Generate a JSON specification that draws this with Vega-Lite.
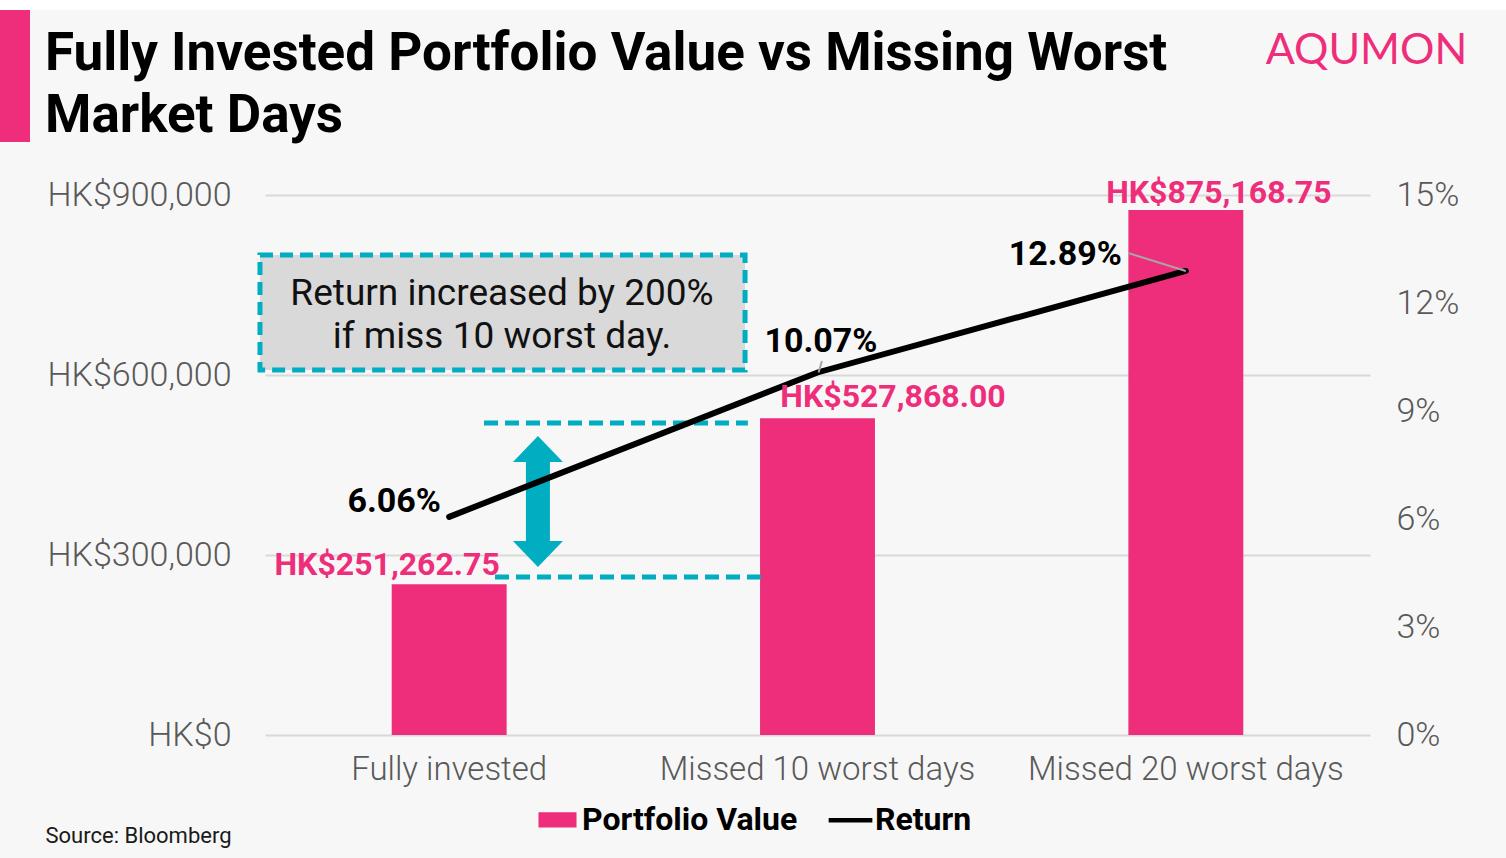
{
  "$schema": "https://vega.github.io/schema/vega-lite/v6.json",
  "width": 1105,
  "height": 540,
  "autosize": {"type": "none"},
  "padding": {"left": 265, "top": 195, "right": 136, "bottom": 123},
  "background": "#f7f7f7",
  "config": {"view": {"stroke": null}, "font": "Roboto"},
  "title": {
    "text": ["Fully Invested Portfolio Value vs Missing Worst", "Market Days"],
    "anchor": "start",
    "frame": "group",
    "orient": "top",
    "offset": -68,
    "dx": -220,
    "dy": 117,
    "baseline": "alphabetic",
    "limit": 0,
    "font": "Roboto",
    "fontSize": 53,
    "fontWeight": "bold",
    "color": "#000000",
    "lineHeight": 62
  },
  "datasets": {
    "main": [
      {"category": "Fully invested", "value": 251262.75, "ret": 6.06, "series": "Portfolio Value"},
      {"category": "Missed 10 worst days", "value": 527868.00, "ret": 10.07, "series": "Portfolio Value"},
      {"category": "Missed 20 worst days", "value": 875168.75, "ret": 12.89, "series": "Portfolio Value"}
    ]
  },
  "data": {"name": "main"},
  "resolve": {"scale": {"x": "independent", "y": "independent"}},
  "layer": [
    {
      "data": {"values": [{}]},
      "mark": {"type": "rect", "color": "#ffffff"},
      "encoding": {
        "x": {"datum": -0.72, "type": "quantitative", "scale": {"domain": [0, 3], "nice": false, "zero": false}, "axis": null},
        "x2": {"datum": 3.37},
        "y": {"datum": 1225000, "type": "quantitative", "scale": {"domain": [0, 900000], "nice": false}, "axis": null},
        "y2": {"datum": 1208333}
      }
    },
    {
      "data": {"values": [{}]},
      "mark": {"type": "rect", "color": "#ee2e7a"},
      "encoding": {
        "x": {"datum": -0.7195, "type": "quantitative", "scale": {"domain": [0, 3], "nice": false, "zero": false}, "axis": null},
        "x2": {"datum": -0.638},
        "y": {"datum": 1208333, "type": "quantitative", "scale": {"domain": [0, 900000], "nice": false}, "axis": null},
        "y2": {"datum": 988333}
      }
    },
    {
      "mark": {"type": "bar", "width": {"band": 0.312}},
      "encoding": {
        "x": {
          "field": "category", "type": "nominal", "sort": null,
          "scale": {"type": "band", "domain": ["Fully invested", "Missed 10 worst days", "Missed 20 worst days"], "paddingInner": 0, "paddingOuter": 0},
          "axis": {
            "orient": "bottom", "ticks": false, "domain": false, "grid": false, "labelAngle": 0, "labelLimit": 0,
            "labelFont": "Roboto", "labelFontWeight": 300, "labelFontSize": 33, "labelColor": "#595959", "labelPadding": 18,
            "title": "Source: Bloomberg", "titleX": -220, "titleY": 107, "titleAlign": "left", "titleAnchor": "start",
            "titleBaseline": "alphabetic", "titleFont": "Roboto", "titleFontSize": 22, "titleFontWeight": "normal", "titleColor": "#1a1a1a"
          }
        },
        "y": {
          "field": "value", "type": "quantitative",
          "scale": {"domain": [0, 900000], "nice": false},
          "axis": {
            "orient": "left", "values": [0, 300000, 600000, 900000],
            "labelExpr": "'HK$' + format(datum.value, ',')", "labelLimit": 0,
            "ticks": false, "domain": false, "grid": true, "gridColor": "#d9d9d9", "gridWidth": 2,
            "labelFont": "Roboto", "labelFontWeight": 300, "labelFontSize": 34, "labelColor": "#595959", "labelPadding": 34,
            "title": null
          }
        },
        "color": {
          "field": "series", "type": "nominal",
          "scale": {"domain": ["Portfolio Value", "Return"], "range": ["#ee2e7a", "#000000"]},
          "legend": {
            "orient": "none", "legendX": 271, "legendY": 603, "direction": "horizontal", "title": null,
            "labelFont": "Roboto", "labelFontWeight": "bold", "labelFontSize": 32, "labelColor": "#000000", "labelLimit": 0,
            "symbolSize": 1444, "labelOffset": 3, "columnPadding": 21, "symbolOpacity": 1,
            "encode": {
              "symbols": {
                "update": {
                  "shape": {"signal": "datum.value === 'Return' ? 'M-1.15,0H1.15' : 'M-1,-0.4H1V0.4H-1Z'"},
                  "fill": {"signal": "datum.value === 'Return' ? 'transparent' : '#ee2e7a'"},
                  "stroke": {"signal": "datum.value === 'Return' ? '#000000' : 'transparent'"},
                  "strokeWidth": {"value": 4.5}
                }
              }
            }
          }
        }
      }
    },
    {
      "data": {"values": [{}]},
      "mark": {"type": "rect", "fill": "#d9d9d9", "stroke": "#00adc1", "strokeWidth": 5, "strokeDash": [13, 7]},
      "encoding": {
        "x": {"datum": -0.0136, "type": "quantitative", "scale": {"domain": [0, 3], "nice": false, "zero": false}, "axis": null},
        "x2": {"datum": 1.3033},
        "y": {"datum": 800000, "type": "quantitative", "scale": {"domain": [0, 900000], "nice": false}, "axis": null},
        "y2": {"datum": 608333}
      }
    },
    {
      "data": {"values": [{}]},
      "mark": {
        "type": "text", "text": ["Return increased by 200%", "if miss 10 worst day."],
        "align": "center", "baseline": "alphabetic", "font": "Roboto", "fontSize": 37, "lineHeight": 43, "color": "#111111"
      },
      "encoding": {
        "x": {"datum": 0.6435, "type": "quantitative", "scale": {"domain": [0, 3], "nice": false, "zero": false}, "axis": null},
        "y": {"datum": 716667, "type": "quantitative", "scale": {"domain": [0, 900000], "nice": false}, "axis": null}
      }
    },
    {
      "data": {"values": [{}]},
      "mark": {"type": "rule", "color": "#00adc1", "strokeWidth": 5, "strokeDash": [14, 7]},
      "encoding": {
        "x": {"datum": 0.5946, "type": "quantitative", "scale": {"domain": [0, 3], "nice": false, "zero": false}, "axis": null},
        "x2": {"datum": 1.311},
        "y": {"datum": 520000, "type": "quantitative", "scale": {"domain": [0, 900000], "nice": false}, "axis": null}
      }
    },
    {
      "data": {"values": [{}]},
      "mark": {"type": "rule", "color": "#00adc1", "strokeWidth": 5, "strokeDash": [14, 7]},
      "encoding": {
        "x": {"datum": 0.6244, "type": "quantitative", "scale": {"domain": [0, 3], "nice": false, "zero": false}, "axis": null},
        "x2": {"datum": 1.3462},
        "y": {"datum": 263333, "type": "quantitative", "scale": {"domain": [0, 900000], "nice": false}, "axis": null}
      }
    },
    {
      "data": {"values": [{}]},
      "mark": {
        "type": "point", "filled": true, "opacity": 1, "color": "#00adc1", "strokeWidth": 0, "size": 2500,
        "shape": "M0,-2.62L1,-1.58L0.48,-1.58L0.48,1.58L1,1.58L0,2.62L-1,1.58L-0.48,1.58L-0.48,-1.58L-1,-1.58Z"
      },
      "encoding": {
        "x": {"datum": 0.741, "type": "quantitative", "scale": {"domain": [0, 3], "nice": false, "zero": false}, "axis": null},
        "y": {"datum": 389167, "type": "quantitative", "scale": {"domain": [0, 900000], "nice": false}, "axis": null}
      }
    },
    {
      "mark": {"type": "line", "color": "#000000", "strokeWidth": 6, "strokeCap": "round"},
      "encoding": {
        "x": {
          "field": "category", "type": "nominal", "sort": null,
          "scale": {"type": "band", "domain": ["Fully invested", "Missed 10 worst days", "Missed 20 worst days"], "paddingInner": 0, "paddingOuter": 0},
          "axis": null
        },
        "y": {
          "field": "ret", "type": "quantitative",
          "scale": {"domain": [0, 15], "nice": false},
          "axis": {
            "orient": "right", "values": [0, 3, 6, 9, 12, 15],
            "labelExpr": "datum.value + '%'", "labelLimit": 0,
            "ticks": false, "domain": false, "grid": false,
            "labelFont": "Roboto", "labelFontWeight": 300, "labelFontSize": 34, "labelColor": "#595959", "labelPadding": 26,
            "title": "AQUMON", "titleAngle": 0, "titleX": -4, "titleY": -132, "titleAlign": "center", "titleBaseline": "alphabetic",
            "titleFont": "Lato", "titleFontSize": 43, "titleFontWeight": "normal", "titleColor": "#ee2e7a"
          }
        }
      }
    },
    {
      "data": {"values": [{}]},
      "mark": {"type": "rule", "color": "#a6a6a6", "strokeWidth": 2},
      "encoding": {
        "x": {"datum": 2.343, "type": "quantitative", "scale": {"domain": [0, 3], "nice": false, "zero": false}, "axis": null},
        "x2": {"datum": 2.5},
        "y": {"datum": 13.39, "type": "quantitative", "scale": {"domain": [0, 15], "nice": false}, "axis": null},
        "y2": {"datum": 12.89}
      }
    },
    {
      "data": {"values": [{}]},
      "mark": {"type": "rule", "color": "#a6a6a6", "strokeWidth": 2},
      "encoding": {
        "x": {"datum": 1.512, "type": "quantitative", "scale": {"domain": [0, 3], "nice": false, "zero": false}, "axis": null},
        "x2": {"datum": 1.503},
        "y": {"datum": 10.39, "type": "quantitative", "scale": {"domain": [0, 15], "nice": false}, "axis": null},
        "y2": {"datum": 10.07}
      }
    },
    {
      "transform": [
        {"filter": "datum.category === 'Fully invested'"},
        {"calculate": "format(datum.ret, '.2f') + '%'", "as": "retLabel"}
      ],
      "mark": {"type": "text", "align": "center", "baseline": "alphabetic", "font": "Roboto", "fontWeight": "bold", "fontSize": 34, "color": "#000000", "dx": -55, "dy": -5},
      "encoding": {
        "x": {"field": "category", "type": "nominal", "sort": null, "scale": {"type": "band", "domain": ["Fully invested", "Missed 10 worst days", "Missed 20 worst days"], "paddingInner": 0, "paddingOuter": 0}, "axis": null},
        "y": {"field": "ret", "type": "quantitative", "scale": {"domain": [0, 15], "nice": false}, "axis": null},
        "text": {"field": "retLabel"}
      }
    },
    {
      "transform": [
        {"filter": "datum.category === 'Missed 10 worst days'"},
        {"calculate": "format(datum.ret, '.2f') + '%'", "as": "retLabel"}
      ],
      "mark": {"type": "text", "align": "center", "baseline": "alphabetic", "font": "Roboto", "fontWeight": "bold", "fontSize": 34, "color": "#000000", "dx": 3.5, "dy": -20},
      "encoding": {
        "x": {"field": "category", "type": "nominal", "sort": null, "scale": {"type": "band", "domain": ["Fully invested", "Missed 10 worst days", "Missed 20 worst days"], "paddingInner": 0, "paddingOuter": 0}, "axis": null},
        "y": {"field": "ret", "type": "quantitative", "scale": {"domain": [0, 15], "nice": false}, "axis": null},
        "text": {"field": "retLabel"}
      }
    },
    {
      "transform": [
        {"filter": "datum.category === 'Missed 20 worst days'"},
        {"calculate": "format(datum.ret, '.2f') + '%'", "as": "retLabel"}
      ],
      "mark": {"type": "text", "align": "center", "baseline": "alphabetic", "font": "Roboto", "fontWeight": "bold", "fontSize": 34, "color": "#000000", "dx": -120.5, "dy": -6},
      "encoding": {
        "x": {"field": "category", "type": "nominal", "sort": null, "scale": {"type": "band", "domain": ["Fully invested", "Missed 10 worst days", "Missed 20 worst days"], "paddingInner": 0, "paddingOuter": 0}, "axis": null},
        "y": {"field": "ret", "type": "quantitative", "scale": {"domain": [0, 15], "nice": false}, "axis": null},
        "text": {"field": "retLabel"}
      }
    },
    {
      "transform": [
        {"filter": "datum.category === 'Fully invested'"},
        {"calculate": "'HK$' + format(datum.value, ',.2f')", "as": "valueLabel"}
      ],
      "mark": {"type": "text", "align": "center", "baseline": "alphabetic", "font": "Roboto", "fontWeight": "bold", "fontSize": 32, "color": "#ee2e7a", "dx": -62, "dy": -9},
      "encoding": {
        "x": {"field": "category", "type": "nominal", "sort": null, "scale": {"type": "band", "domain": ["Fully invested", "Missed 10 worst days", "Missed 20 worst days"], "paddingInner": 0, "paddingOuter": 0}, "axis": null},
        "y": {"field": "value", "type": "quantitative", "scale": {"domain": [0, 900000], "nice": false}, "axis": null},
        "text": {"field": "valueLabel"}
      }
    },
    {
      "transform": [
        {"filter": "datum.category === 'Missed 10 worst days'"},
        {"calculate": "'HK$' + format(datum.value, ',.2f')", "as": "valueLabel"}
      ],
      "mark": {"type": "text", "align": "center", "baseline": "alphabetic", "font": "Roboto", "fontWeight": "bold", "fontSize": 32, "color": "#ee2e7a", "dx": 75.5, "dy": -11},
      "encoding": {
        "x": {"field": "category", "type": "nominal", "sort": null, "scale": {"type": "band", "domain": ["Fully invested", "Missed 10 worst days", "Missed 20 worst days"], "paddingInner": 0, "paddingOuter": 0}, "axis": null},
        "y": {"field": "value", "type": "quantitative", "scale": {"domain": [0, 900000], "nice": false}, "axis": null},
        "text": {"field": "valueLabel"}
      }
    },
    {
      "transform": [
        {"filter": "datum.category === 'Missed 20 worst days'"},
        {"calculate": "'HK$' + format(datum.value, ',.2f')", "as": "valueLabel"}
      ],
      "mark": {"type": "text", "align": "center", "baseline": "alphabetic", "font": "Roboto", "fontWeight": "bold", "fontSize": 32, "color": "#ee2e7a", "dx": 33, "dy": -7},
      "encoding": {
        "x": {"field": "category", "type": "nominal", "sort": null, "scale": {"type": "band", "domain": ["Fully invested", "Missed 10 worst days", "Missed 20 worst days"], "paddingInner": 0, "paddingOuter": 0}, "axis": null},
        "y": {"field": "value", "type": "quantitative", "scale": {"domain": [0, 900000], "nice": false}, "axis": null},
        "text": {"field": "valueLabel"}
      }
    }
  ]
}
